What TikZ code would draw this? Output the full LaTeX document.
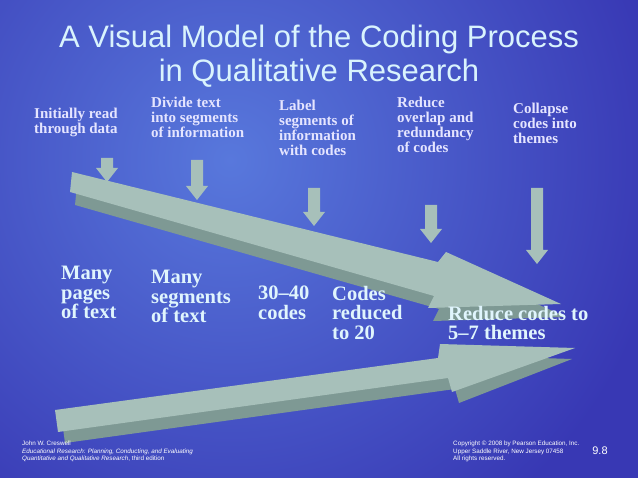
\documentclass[tikz,border=0pt]{standalone}
\usepackage{fontspec}
\setmainfont{Liberation Serif}
\setsansfont{Liberation Sans}
\begin{document}
\begin{tikzpicture}[x=1pt,y=-1pt,
  top/.style={font=\rmfamily\bfseries\fontsize{15}{15}\selectfont, text=white!90!blue, align=left, anchor=north west, inner sep=0},
  mid/.style={font=\rmfamily\bfseries\fontsize{20.5}{19.5}\selectfont, text=cyan!12!white, align=left, anchor=north west, inner sep=0},
  foot/.style={font=\sffamily\fontsize{6.3}{7.6}\selectfont, text=white, align=left, anchor=north west, inner sep=0}]
\definecolor{bgA}{HTML}{5878DC}
\definecolor{bgB}{HTML}{3838B4}
\definecolor{face}{HTML}{A7C0BA}
\definecolor{side}{HTML}{7E9994}
\useasboundingbox (0,0) rectangle (638,478);
\fill[bgB] (0,0) rectangle (638,478);
\begin{scope}
\clip (0,0) rectangle (638,478);
\shade[inner color=bgA, outer color=bgB] (230,160) circle (440);
\end{scope}
\node[font=\sffamily\fontsize{31}{34}\selectfont, text=cyan!15!white, align=center, inner sep=0] (title) at (319,56) {A Visual Model of the Coding Process\\in Qualitative Research};
% top arrow
\begin{scope}[shift={(5,13)}]
\fill[side] (72,172) -- (438,262) -- (446,252) -- (561,304) -- (428,308) -- (434,296) -- (70,192) -- cycle;
\end{scope}
\fill[face] (72,172) -- (438,262) -- (446,252) -- (561,304) -- (428,308) -- (434,296) -- (70,192) -- cycle;
% bottom arrow
\begin{scope}[shift={(7,11)}]
\fill[side] (55,410) -- (438,358) -- (440,344) -- (565,348) -- (452,392) -- (448,378) -- (58,432) -- cycle;
\end{scope}
\fill[face] (55,410) -- (438,358) -- (440,344) -- (575,348) -- (452,392) -- (448,378) -- (58,432) -- cycle;
% small arrows
\foreach \n/\x/\ya/\yb in {a1/107/158/182, a2/197/160/200, a3/314/188/226, a4/431/205/243, a5/537/188/264}{
  \fill[face] (\x-6,\ya) -- (\x+6,\ya) -- (\x+6,\yb-14) -- (\x+11,\yb-14) -- (\x,\yb) -- (\x-11,\yb-14) -- (\x-6,\yb-14) -- cycle;
}
\node[top] (t1) at (34,108) {Initially read\\through data};
\node[top] (t2) at (151,97) {Divide text\\into segments\\of information};
\node[top] (t3) at (279,100) {Label\\segments of\\information\\with codes};
\node[top] (t4) at (397,97) {Reduce\\overlap and\\redundancy\\of codes};
\node[top] (t5) at (513,103) {Collapse\\codes into\\themes};
\node[mid] (m1) at (61,266) {Many\\pages\\of text};
\node[mid] (m2) at (151,270) {Many\\segments\\of text};
\node[mid] (m3) at (258,286) {30--40\\codes};
\node[mid] (m4) at (332,286) {Codes\\reduced\\to 20};
\node[mid] (m5) at (448,306) {Reduce codes to\\5--7 themes};
\node[foot] (f1) at (22,441) {John W. Creswell\\\textit{Educational Research: Planning, Conducting, and Evaluating}\\\textit{Quantitative and Qualitative Research}, third edition};
\node[foot] (f2) at (453,441) {Copyright © 2008 by Pearson Education, Inc.\\Upper Saddle River, New Jersey 07458\\All rights reserved.};
\node[font=\sffamily\fontsize{11}{11}\selectfont, text=white, inner sep=0] (pg) at (600,451) {9.8};
\end{tikzpicture}
\end{document}
